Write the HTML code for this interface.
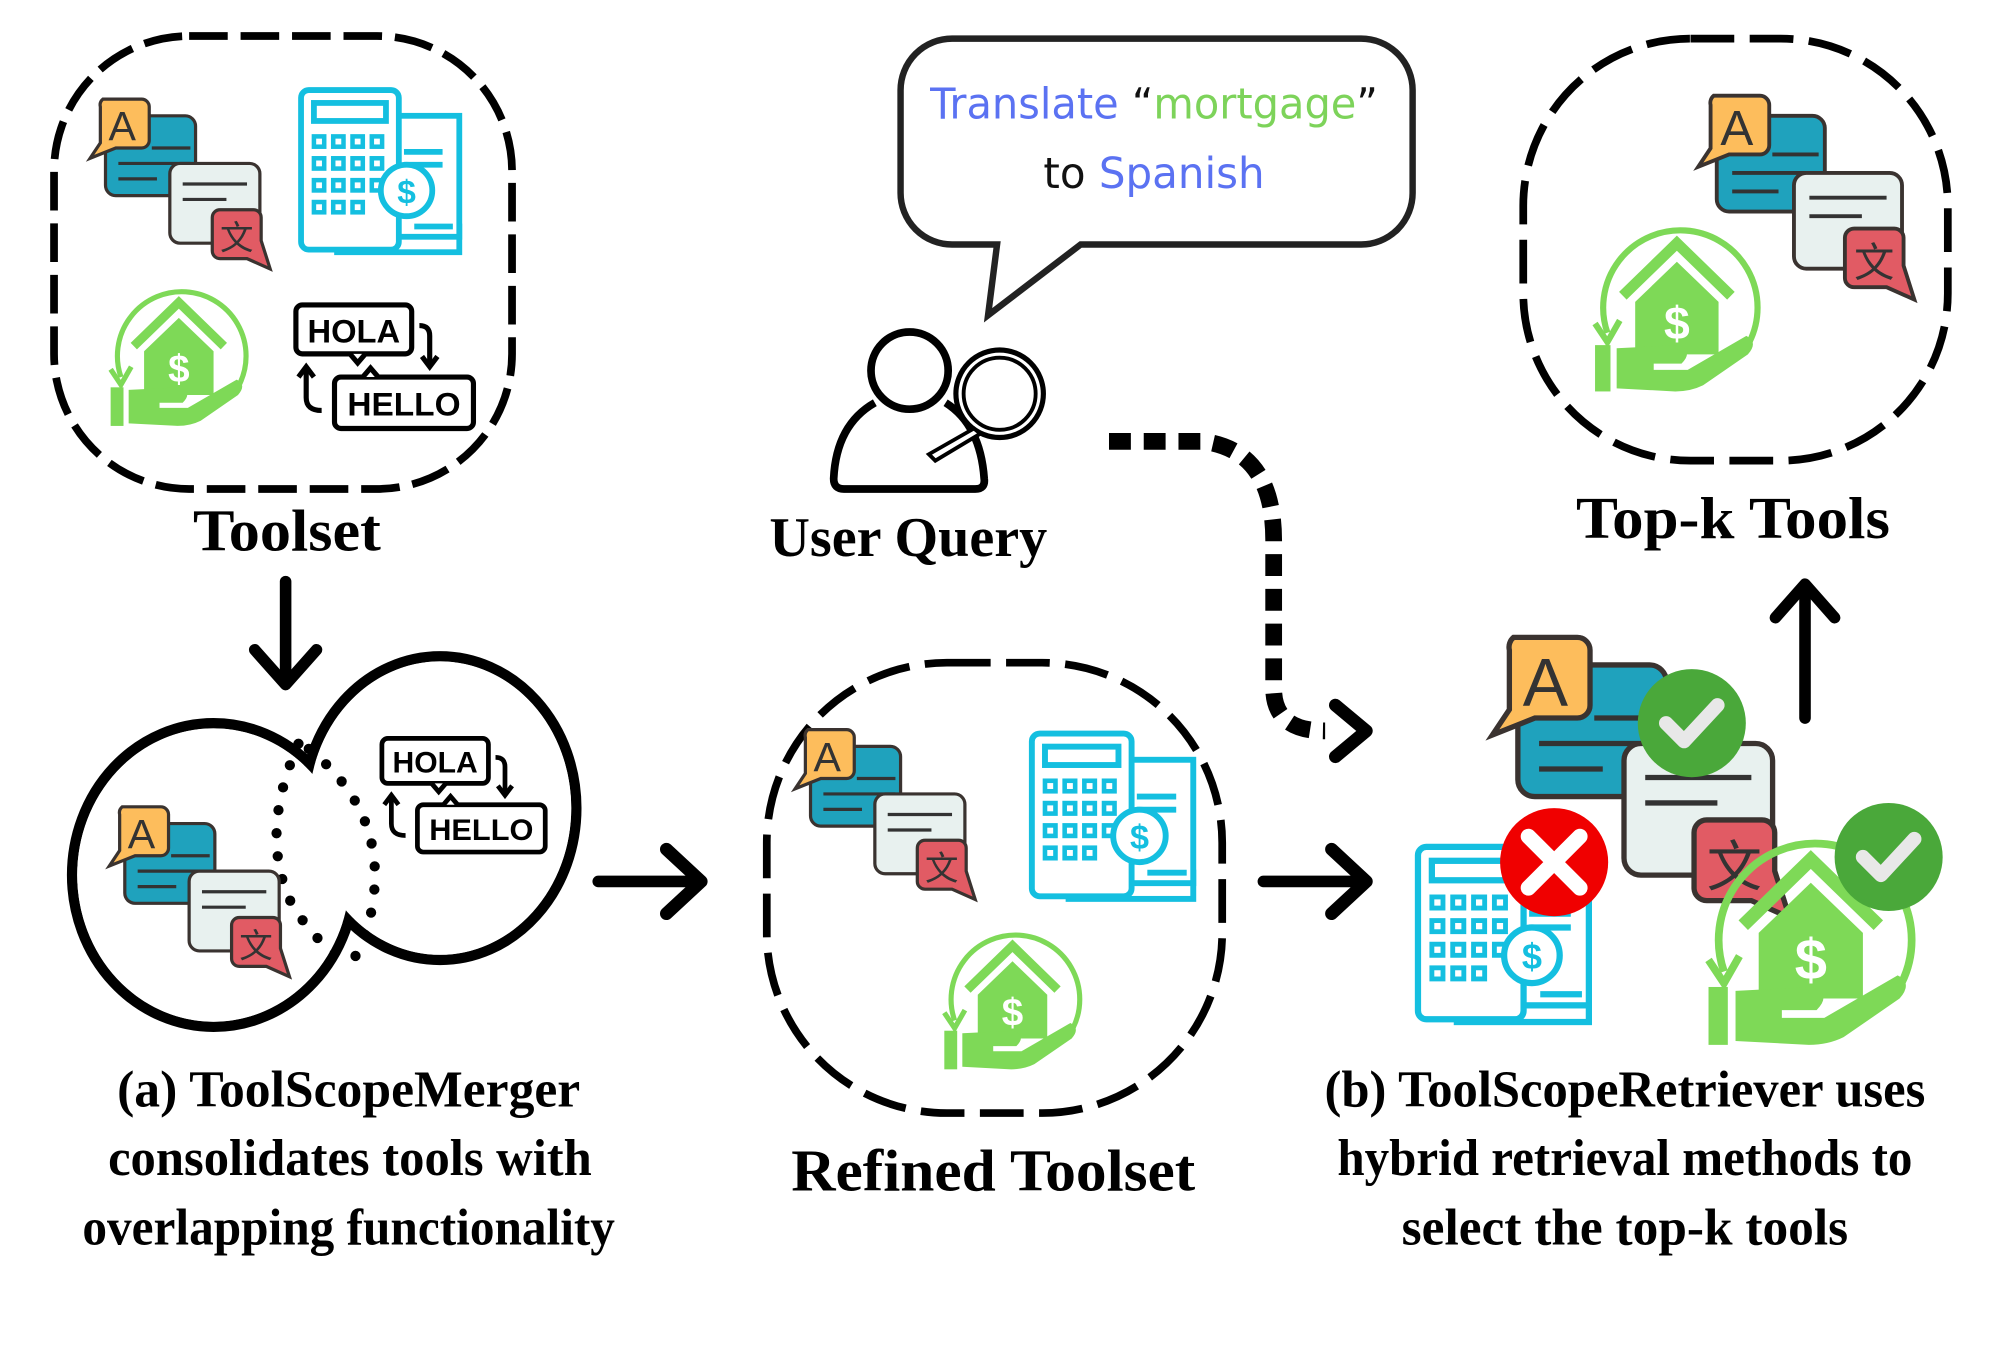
<!DOCTYPE html>
<html><head><meta charset="utf-8"><style>
html,body{margin:0;padding:0;background:#fff;}
svg{display:block;}
.lbl{font-family:"Liberation Serif",serif;font-weight:bold;fill:#000;}
</style></head><body>
<svg width="2007" height="1364" viewBox="0 0 1560 1060" preserveAspectRatio="none" xmlns="http://www.w3.org/2000/svg">
<defs>
<g id="tr">
  <rect x="12" y="15" width="70" height="62" rx="8" fill="#1fa2bd" stroke="#3a3330" stroke-width="2.5"/>
  <line x1="48" y1="40" x2="78" y2="40" stroke="#333" stroke-width="2.5"/>
  <line x1="22" y1="52" x2="78" y2="52" stroke="#333" stroke-width="2.5"/>
  <line x1="22" y1="64" x2="52" y2="64" stroke="#333" stroke-width="2.5"/>
  <path d="M10 2 H40 a6 6 0 0 1 6 6 V34 a6 6 0 0 1 -6 6 H20 L0 48 L8 36 V8 a6 6 0 0 1 2 -6Z" fill="#fdbd5c" stroke="#3a3330" stroke-width="2.5"/>
  <text x="25" y="34" font-family="Liberation Sans,sans-serif" font-size="32" fill="#333" text-anchor="middle">A</text>
  <rect x="62" y="52" width="70" height="62" rx="8" fill="#e8f1ef" stroke="#3a3330" stroke-width="2.5"/>
  <line x1="72" y1="68" x2="122" y2="68" stroke="#333" stroke-width="2.5"/>
  <line x1="72" y1="80" x2="106" y2="80" stroke="#333" stroke-width="2.5"/>
  <path d="M101 88 H127 a6 6 0 0 1 6 6 V112 L140 134 L122 126 H101 a6 6 0 0 1 -6 -6 V94 a6 6 0 0 1 6 -6Z" fill="#e15b64" stroke="#3a3330" stroke-width="2.5"/>
  <text x="114" y="119" font-family="Noto Sans CJK SC,sans-serif" font-size="26" fill="#333" text-anchor="middle">文</text>
</g>
<g id="calc" fill="none" stroke="#14bfe0" stroke-width="4.5">
  <rect x="30" y="108" width="95" height="20" fill="#fff"/>
  <rect x="58" y="22" width="67" height="94" fill="#fff"/>
  <rect x="2" y="2" width="76" height="124" rx="6" fill="#fff"/>
  <rect x="12" y="12" width="56" height="14"/>
  <g stroke-width="3.5">
  <rect x="12" y="38" width="8" height="8"/><rect x="27" y="38" width="8" height="8"/><rect x="42" y="38" width="8" height="8"/><rect x="57" y="38" width="8" height="8"/>
  <rect x="12" y="55" width="8" height="8"/><rect x="27" y="55" width="8" height="8"/><rect x="42" y="55" width="8" height="8"/><rect x="57" y="55" width="8" height="8"/>
  <rect x="12" y="72" width="8" height="8"/><rect x="27" y="72" width="8" height="8"/><rect x="42" y="72" width="8" height="8"/><rect x="57" y="72" width="8" height="8"/>
  <rect x="12" y="89" width="8" height="8"/><rect x="27" y="89" width="8" height="8"/><rect x="42" y="89" width="8" height="8"/>
  </g>
  <line x1="82" y1="50" x2="112" y2="50"/><line x1="82" y1="60" x2="112" y2="60"/>
  <line x1="90" y1="108" x2="120" y2="108"/>
  <circle cx="84" cy="80" r="20" fill="#fff"/>
  <text x="84" y="90" font-family="Liberation Sans,sans-serif" font-weight="bold" font-size="26" fill="#14bfe0" stroke="none" text-anchor="middle">$</text>
</g>
<g id="house" fill="#7ed957">
  <path d="M12 78 A50 50 0 1 1 104 84" fill="none" stroke="#7ed957" stroke-width="4"/>
  <path d="M4 72 L12 84 L20 70" fill="none" stroke="#7ed957" stroke-width="4"/>
  <polygon points="30,58 57,32 84,58 84,92 30,92"/>
  <polyline points="22,54 57,20 92,54" fill="none" stroke="#7ed957" stroke-width="7"/>
  <text x="57" y="82" font-family="Liberation Sans,sans-serif" font-weight="bold" font-size="30" fill="#fff" text-anchor="middle">$</text>
  <rect x="4" y="86" width="10" height="30"/>
  <path d="M18 88 L58 86 Q68 90 60 98 L42 98 L42 102 L64 102 L102 80 Q110 84 103 92 L74 112 Q66 116 56 116 L18 114Z"/>
</g>
<g id="hola" fill="none" stroke="#000" stroke-width="4">
  <rect x="2" y="2" width="90" height="38" rx="5"/>
  <path d="M44 40 L50 47 L56 40" fill="#fff"/>
  <text x="47" y="31" font-family="Liberation Sans,sans-serif" font-weight="bold" font-size="25" fill="#000" stroke="none" text-anchor="middle" textLength="72" lengthAdjust="spacingAndGlyphs">HOLA</text>
  <path d="M98 18 Q106 18 106 26 V48"/><path d="M100 42 L106 50 L112 42"/>
  <rect x="32" y="58" width="108" height="40" rx="5"/>
  <path d="M54 58 L60 51 L66 58" fill="#fff"/>
  <text x="86" y="88" font-family="Liberation Sans,sans-serif" font-weight="bold" font-size="25" fill="#000" stroke="none" text-anchor="middle" textLength="88" lengthAdjust="spacingAndGlyphs">HELLO</text>
  <path d="M22 84 Q10 84 10 74 V52"/><path d="M4 58 L10 50 L16 58"/>
</g>
<g id="chk"><circle r="42" fill="#4aa83a"/><polyline points="-20,0 -6,14 20,-14" fill="none" stroke="#e8e8e8" stroke-width="11" stroke-linecap="round" stroke-linejoin="round"/></g>
</defs>

<!-- Toolset box -->
<rect x="42" y="28" width="356" height="352" rx="105" fill="none" stroke="#000" stroke-width="6" stroke-dasharray="30 10"/>
<use href="#tr" transform="translate(70,75)"/>
<use href="#calc" transform="translate(232,68)"/>
<use href="#house" transform="translate(82,215)"/>
<use href="#hola" transform="translate(228,235)"/>
<text class="lbl" x="223" y="428" font-size="46" text-anchor="middle" textLength="146" lengthAdjust="spacingAndGlyphs">Toolset</text>

<!-- down arrow -->
<line x1="222" y1="452" x2="222" y2="528" stroke="#000" stroke-width="9" stroke-linecap="round"/>
<polyline points="198,505 222,532 246,505" fill="none" stroke="#000" stroke-width="9" stroke-linecap="round" stroke-linejoin="round"/>

<!-- merge -->
<ellipse cx="166" cy="680" rx="110" ry="118" fill="none" stroke="#000" stroke-width="8"/>
<ellipse cx="342" cy="628" rx="106" ry="118" fill="none" stroke="#000" stroke-width="8"/>
<ellipse cx="166" cy="680" rx="106" ry="114" fill="#fff"/>
<ellipse cx="342" cy="628" rx="102" ry="114" fill="#fff"/>
<path d="M232 578 Q200 650 228 705 Q248 735 270 748" fill="none" stroke="#000" stroke-width="8" stroke-linecap="round" stroke-dasharray="0 18"/>
<path d="M240 582 Q300 630 290 700 Q286 728 275 745" fill="none" stroke="#000" stroke-width="8" stroke-linecap="round" stroke-dasharray="0 18"/>
<use href="#tr" transform="translate(85,625)"/>
<use href="#hola" transform="translate(295,572) scale(0.92)"/>

<text class="lbl" x="271" y="860" font-size="40" text-anchor="middle" textLength="360" lengthAdjust="spacingAndGlyphs">(a) ToolScopeMerger</text>
<text class="lbl" x="272" y="913" font-size="40" text-anchor="middle" textLength="376" lengthAdjust="spacingAndGlyphs">consolidates tools with</text>
<text class="lbl" x="271" y="967" font-size="40" text-anchor="middle" textLength="414" lengthAdjust="spacingAndGlyphs">overlapping functionality</text>

<!-- arrow -->
<line x1="465" y1="685" x2="542" y2="685" stroke="#000" stroke-width="9" stroke-linecap="round"/>
<polyline points="518,660 545,685 518,710" fill="none" stroke="#000" stroke-width="10" stroke-linecap="round" stroke-linejoin="round"/>

<!-- Refined -->
<rect x="596" y="515" width="354" height="350" rx="140" fill="none" stroke="#000" stroke-width="6" stroke-dasharray="34 12"/>
<use href="#tr" transform="translate(618,565)"/>
<use href="#calc" transform="translate(800,568) scale(1.02)"/>
<use href="#house" transform="translate(730,715)"/>
<text class="lbl" x="772" y="925" font-size="46" text-anchor="middle" textLength="314" lengthAdjust="spacingAndGlyphs">Refined Toolset</text>

<!-- speech bubble -->
<path d="M740 30 H1058 a40 40 0 0 1 40 40 V150 a40 40 0 0 1 -40 40 H840 L768 245 L775 190 H740 a40 40 0 0 1 -40 -40 V70 a40 40 0 0 1 40 -40Z" fill="#fff" stroke="#222" stroke-width="5"/>
<text x="897" y="92" font-family="DejaVu Sans,Liberation Sans,sans-serif" font-size="33" text-anchor="middle" textLength="348" lengthAdjust="spacingAndGlyphs"><tspan fill="#5b72f2">Translate </tspan><tspan fill="#111">“</tspan><tspan fill="#7dd35a">mortgage</tspan><tspan fill="#111">”</tspan></text>
<text x="897" y="146" font-family="DejaVu Sans,Liberation Sans,sans-serif" font-size="33" text-anchor="middle" textLength="172" lengthAdjust="spacingAndGlyphs"><tspan fill="#111">to </tspan><tspan fill="#5b72f2">Spanish</tspan></text>

<!-- user icon -->
<circle cx="707" cy="288" r="30" fill="none" stroke="#000" stroke-width="6"/>
<path d="M680 313 Q650 330 648 372 Q648 380 656 380 H758 Q766 380 765 372 Q762 330 735 313" fill="none" stroke="#000" stroke-width="6"/>
<circle cx="777" cy="306" r="34" fill="#fff" stroke="#000" stroke-width="4"/>
<circle cx="777" cy="306" r="28" fill="none" stroke="#000" stroke-width="3"/>
<path d="M757 333 L722 353 L727 358 L762 337Z" fill="#fff" stroke="#000" stroke-width="3"/>
<text class="lbl" x="706" y="432" font-size="44" text-anchor="middle" textLength="216" lengthAdjust="spacingAndGlyphs">User Query</text>

<!-- dotted arrow -->
<path d="M862 343 H935 Q990 350 990 420 V535 Q990 568 1030 568" fill="none" stroke="#000" stroke-width="13" stroke-dasharray="17 10"/>
<polyline points="1038,548 1062,568 1038,588" fill="none" stroke="#000" stroke-width="10" stroke-linecap="round" stroke-linejoin="round"/>

<!-- arrow 2 -->
<line x1="982" y1="685" x2="1058" y2="685" stroke="#000" stroke-width="9" stroke-linecap="round"/>
<polyline points="1035,660 1062,685 1035,710" fill="none" stroke="#000" stroke-width="10" stroke-linecap="round" stroke-linejoin="round"/>

<!-- Top-k box -->
<rect x="1184" y="30" width="330" height="328" rx="130" fill="none" stroke="#000" stroke-width="6" stroke-dasharray="34 12"/>
<use href="#tr" transform="translate(1320,72) scale(1.2)"/>
<use href="#house" transform="translate(1235,165) scale(1.2)"/>
<text class="lbl" x="1347" y="418" font-size="46" text-anchor="middle" textLength="244" lengthAdjust="spacingAndGlyphs">Top-k Tools</text>

<!-- up arrow -->
<line x1="1403" y1="558" x2="1403" y2="458" stroke="#000" stroke-width="9" stroke-linecap="round"/>
<polyline points="1380,480 1403,454 1426,480" fill="none" stroke="#000" stroke-width="9" stroke-linecap="round" stroke-linejoin="round"/>

<!-- retrieved cluster -->
<use href="#tr" transform="translate(1160,492) scale(1.65)"/>
<use href="#calc" transform="translate(1100,656) scale(1.08)"/>
<g transform="translate(1208,670)"><circle r="42" fill="#f00000"/><path d="M-20 -20 L20 20 M20 -20 L-20 20" stroke="#fff" stroke-width="12" stroke-linecap="round"/></g>
<use href="#chk" transform="translate(1315,562)"/>
<use href="#house" transform="translate(1322,638) scale(1.5)"/>
<use href="#chk" transform="translate(1468,666)"/>

<text class="lbl" x="1263" y="860" font-size="40" text-anchor="middle" textLength="467" lengthAdjust="spacingAndGlyphs">(b) ToolScopeRetriever uses</text>
<text class="lbl" x="1263" y="913" font-size="40" text-anchor="middle" textLength="447" lengthAdjust="spacingAndGlyphs">hybrid retrieval methods to</text>
<text class="lbl" x="1263" y="967" font-size="40" text-anchor="middle" textLength="347" lengthAdjust="spacingAndGlyphs">select the top-k tools</text>
</svg>
</body></html>
